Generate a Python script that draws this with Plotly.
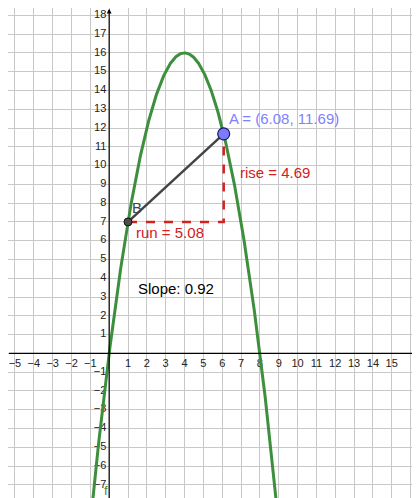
import numpy as np
import plotly.graph_objects as go

x_ticks = [v for v in range(-5, 16) if v != 0]
y_ticks = [v for v in range(-7, 19) if v != 0]
point_a = (6.08, 11.69)
point_b = (1.0, 7.0)
rise = 4.69
run = 5.08
slope = 0.92

def f(x):
    return -x**2 + 8*x

xs = np.linspace(-1.2, 9.2, 400)

fig = go.Figure()

# tick labels sitting next to the axes, GeoGebra style
fig.add_trace(go.Scatter(x=x_ticks, y=[-0.6]*len(x_ticks), mode="text",
                         text=[str(v).replace("-", "\u2212") for v in x_ticks],
                         textfont=dict(size=11, color="#222"), hoverinfo="skip"))
fig.add_trace(go.Scatter(x=[-0.15]*len(y_ticks), y=y_ticks, mode="text",
                         text=[str(v).replace("-", "\u2212") for v in y_ticks],
                         textposition="middle left",
                         textfont=dict(size=11, color="#222"), hoverinfo="skip"))

fig.add_trace(go.Scatter(x=xs, y=f(xs), mode="lines",
                         line=dict(color="#3d8f3d", width=3), hoverinfo="skip"))

ax, ay = point_a
bx, by = point_b
fig.add_trace(go.Scatter(x=[bx, ax, ax], y=[by, by, ay], mode="lines",
                         line=dict(color="#d32020", width=2.5, dash="dash")))
fig.add_trace(go.Scatter(x=[bx, ax], y=[by, ay], mode="lines",
                         line=dict(color="#444444", width=2.5)))
fig.add_trace(go.Scatter(x=[bx], y=[by], mode="markers",
                         marker=dict(size=8, color="#4d4d4d", line=dict(color="#111", width=1))))
fig.add_trace(go.Scatter(x=[ax], y=[ay], mode="markers",
                         marker=dict(size=12, color="#7b7bff", line=dict(color="#1a1a66", width=1.2))))

labels = [
    (ax + 0.15, ay + 0.8, f"A = ({ax:.2f}, {ay:.2f})", "#8080ff", 15),
    (bx + 0.1, by + 0.75, "B", "#444444", 15),
    (ax + 0.75, (ay + by) / 2 + 0.3, f"rise = {rise:.2f}", "#d32020", 15),
    (bx + 0.3, by - 0.55, f"run = {run:.2f}", "#d32020", 15),
    (bx + 0.4, by - 3.55, f"Slope: {slope:.2f}", "#000000", 15),
    (-0.4, -7.3, "f", "#3d8f3d", 13),
]
for lx, ly, t, c, s in labels:
    fig.add_annotation(x=lx, y=ly, text=t, showarrow=False, xanchor="left",
                       font=dict(color=c, size=s))

# axes with arrowheads
fig.add_annotation(x=16.45, y=0, ax=-5.4, ay=0, xref="x", yref="y", axref="x", ayref="y",
                   showarrow=True, arrowhead=2, arrowsize=0.8, arrowwidth=1.2, arrowcolor="#000", text="")
fig.add_annotation(x=0, y=18.35, ax=0, ay=-8.0, xref="x", yref="y", axref="x", ayref="y",
                   showarrow=True, arrowhead=2, arrowsize=0.8, arrowwidth=1.2, arrowcolor="#000", text="")

fig.update_xaxes(range=[-5.37, 16.5], dtick=1, showgrid=True, gridcolor="#c8c8c8",
                 gridwidth=1, zeroline=False, showticklabels=False, fixedrange=True)
fig.update_yaxes(range=[-7.7, 18.39], dtick=1, showgrid=True, gridcolor="#c8c8c8",
                 gridwidth=1, zeroline=False, showticklabels=False, fixedrange=True)
fig.update_layout(width=412, height=490, margin=dict(l=0, r=0, t=0, b=0),
                  plot_bgcolor="white", paper_bgcolor="white", showlegend=False,
                  font=dict(family="Liberation Sans, Arial"))
fig.write_html("out.html")
